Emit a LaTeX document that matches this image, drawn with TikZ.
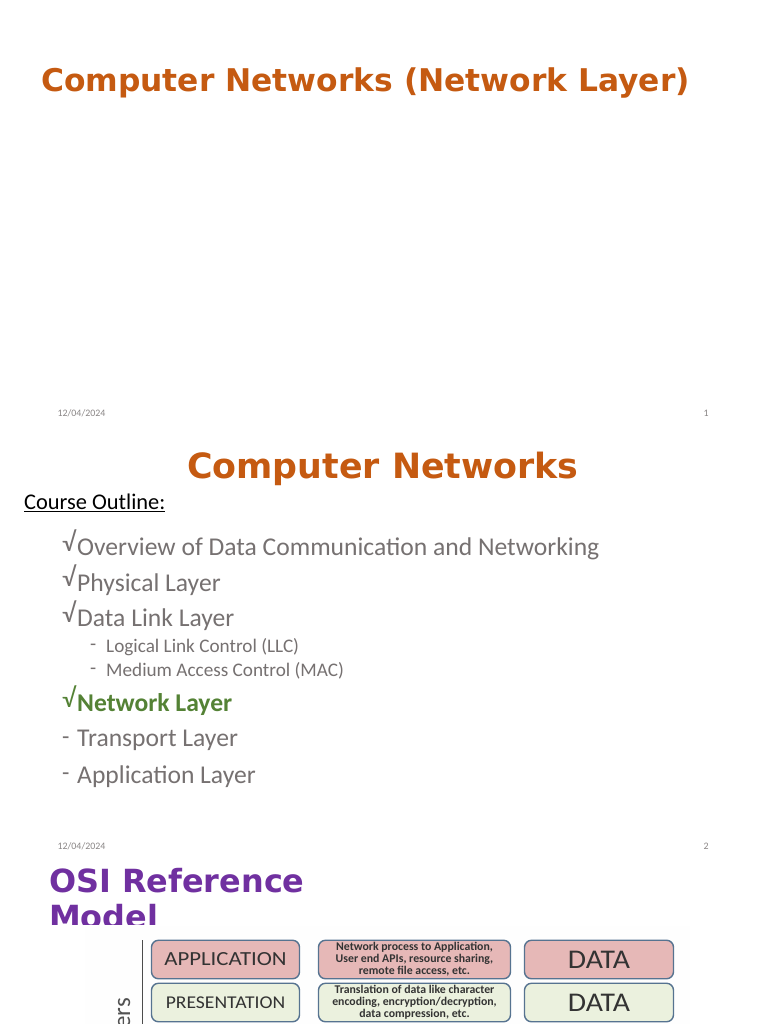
\documentclass[tikz,border=0pt]{standalone}
\usepackage{fontspec}
\setmainfont{Carlito}
\newfontfamily\dejavu{DejaVu Sans}
\definecolor{titleor}{HTML}{C55A11}
\definecolor{bodygr}{HTML}{767171}
\definecolor{netgr}{HTML}{548235}
\definecolor{oslpur}{HTML}{7030A0}
\definecolor{rosefill}{HTML}{E6B8B7}
\definecolor{palefill}{HTML}{EBF1DE}
\definecolor{boxedge}{HTML}{567390}
\definecolor{inktxt}{HTML}{333333}
\tikzset{
  lbl/.style={inner sep=0pt,anchor=base west},
  slidetitle/.style={lbl,font=\dejavu\bfseries\fontsize{31.3}{36}\selectfont,text=titleor},
  stamp/.style={inner sep=0pt,anchor=base,font=\fontsize{9.9}{12}\selectfont,text=bodygr!85},
  main/.style={lbl,font=\fontsize{25.6}{30}\selectfont,text=bodygr},
  sub/.style={lbl,font=\fontsize{19.2}{22}\selectfont,text=bodygr},
  tick/.style={lbl,font=\fontsize{27}{30}\selectfont,text=bodygr},
  dashm/.style={lbl,font=\fontsize{20}{22}\selectfont,text=bodygr},
  layer/.style={draw=boxedge,line width=1.4pt,rounded corners=7pt,minimum height=38.5pt,inner sep=0pt,text=inktxt,align=center},
  small/.style={font=\bfseries\fontsize{11.8}{12}\selectfont},
}
\begin{document}
\begin{tikzpicture}[x=1pt,y=-1pt]
\useasboundingbox (0,0) rectangle (768,1024);
\clip (0,0) rectangle (768,1024);
\fill[white] (0,0) rectangle (768,1024);
% slide 1
\node[slidetitle] (t1) at (41,92) {Computer Networks (Network Layer)};
\node[stamp] (d1) at (81.5,416) {12/04/2024};
\node[stamp] (n1) at (706,416) {1};
% slide 2
\node[slidetitle,font=\dejavu\bfseries\fontsize{34.8}{40}\selectfont] (t2) at (187,478.5) {Computer Networks};
\node[lbl,font=\fontsize{22.4}{26}\selectfont] (co) at (24,509.5) {\underline{Course Outline:}};
\node[tick] (k1) at (62,551) {√};
\node[main] (m1) at (77,555.5) {Overview of Data Communication and Networking};
\node[tick] (k2) at (62,586) {√};
\node[main] (m2) at (77,591) {Physical Layer};
\node[tick] (k3) at (62,622) {√};
\node[main] (m3) at (77,626.5) {Data Link Layer};
\node[dashm] (s1d) at (90,650) {-};
\node[sub] (s1) at (106,652) {Logical Link Control (LLC)};
\node[dashm] (s2d) at (90,674) {-};
\node[sub] (s2) at (106,676.5) {Medium Access Control (MAC)};
\node[tick,text=netgr] (k4) at (62,707) {√};
\node[main,font=\bfseries\fontsize{25.6}{30}\selectfont,text=netgr] (m4) at (77,711.5) {Network Layer};
\node[dashm,font=\fontsize{24}{28}\selectfont] (d5) at (62,744) {-};
\node[main] (m5) at (77,746.5) {Transport Layer};
\node[dashm,font=\fontsize{24}{28}\selectfont] (d6) at (62,780) {-};
\node[main] (m6) at (77,783) {Application Layer};
\node[stamp] (d2) at (81.5,849) {12/04/2024};
\node[stamp] (n2) at (706,849) {2};
% slide 3
\node[lbl,font=\dejavu\bfseries\fontsize{31.9}{36}\selectfont,text=oslpur] (t3a) at (49,892) {OSI Reference};
\node[lbl,font=\dejavu\bfseries\fontsize{31.9}{36}\selectfont,text=oslpur] (t3b) at (49,928) {Model};
\fill[white] (0,925) rectangle (768,1024);
\fill[black!0.5] (85,926) rectangle (690,1024);
\draw[line width=1.2pt,black!70] (142.5,940) -- (142.5,1024);
\node[rotate=90,anchor=base east,inner sep=0pt,font=\fontsize{25}{28}\selectfont,text=inktxt!85] (vs) at (130,998) {ers};
\node[layer,fill=rosefill,minimum width=148pt,font=\fontsize{20}{22}\selectfont] (a1) at (225.5,959.5) {\raisebox{-1.5pt}{\scalebox{1.14}[1]{APPLICATION}}};
\node[layer,fill=palefill,minimum width=148pt,font=\fontsize{18}{20}\selectfont] (p1) at (225.5,1002.5) {\raisebox{-1pt}{\scalebox{1.09}[1]{PRESENTATION}}};
\node[layer,fill=rosefill,minimum width=192pt,small] (a2) at (414.5,959.5) {Network process to Application,\\User end APIs, resource sharing,\\remote file access, etc.};
\node[layer,fill=palefill,minimum width=192pt,small] (p2) at (414.5,1002.5) {Translation of data like character\\encoding, encryption/decryption,\\data compression, etc.};
\node[layer,fill=rosefill,minimum width=149pt,font=\fontsize{27}{30}\selectfont] (a3) at (599,959.5) {\raisebox{-1pt}{\scalebox{1.1}[1]{DATA}}};
\node[layer,fill=palefill,minimum width=149pt,font=\fontsize{27}{30}\selectfont] (p3) at (599,1002.5) {\raisebox{-1pt}{\scalebox{1.1}[1]{DATA}}};
\end{tikzpicture}
\end{document}
